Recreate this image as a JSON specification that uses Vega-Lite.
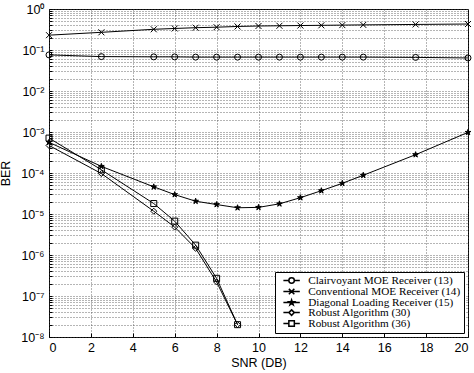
{
  "$schema": "https://vega.github.io/schema/vega-lite/v6.json",
  "width": 419,
  "height": 328,
  "autosize": {"type": "none"},
  "padding": {"left": 49, "top": 9, "right": 6, "bottom": 36},
  "background": "white",
  "config": {
    "view": {"stroke": "black", "strokeWidth": 1},
    "legend": {"rowPadding": -2, "gridAlign": "none"},
    "axis": {
      "labelFont": "Liberation Sans",
      "titleFont": "Liberation Sans",
      "labelColor": "black",
      "titleColor": "black",
      "titleFontWeight": "normal",
      "domain": false,
      "tickColor": "black",
      "grid": true,
      "gridColor": "#444",
      "gridDash": [1, 2],
      "gridWidth": 0.8
    }
  },
  "data": {
    "values": [
      {"series": "Clairvoyant MOE Receiver (13)", "snr": 0, "ber": 0.076},
      {"series": "Clairvoyant MOE Receiver (13)", "snr": 2.5, "ber": 0.069},
      {"series": "Clairvoyant MOE Receiver (13)", "snr": 5, "ber": 0.068},
      {"series": "Clairvoyant MOE Receiver (13)", "snr": 6, "ber": 0.068},
      {"series": "Clairvoyant MOE Receiver (13)", "snr": 7, "ber": 0.067},
      {"series": "Clairvoyant MOE Receiver (13)", "snr": 8, "ber": 0.067},
      {"series": "Clairvoyant MOE Receiver (13)", "snr": 9, "ber": 0.067},
      {"series": "Clairvoyant MOE Receiver (13)", "snr": 10, "ber": 0.067},
      {"series": "Clairvoyant MOE Receiver (13)", "snr": 11, "ber": 0.067},
      {"series": "Clairvoyant MOE Receiver (13)", "snr": 12, "ber": 0.067},
      {"series": "Clairvoyant MOE Receiver (13)", "snr": 13, "ber": 0.067},
      {"series": "Clairvoyant MOE Receiver (13)", "snr": 14, "ber": 0.067},
      {"series": "Clairvoyant MOE Receiver (13)", "snr": 15, "ber": 0.067},
      {"series": "Clairvoyant MOE Receiver (13)", "snr": 17.5, "ber": 0.066},
      {"series": "Clairvoyant MOE Receiver (13)", "snr": 20, "ber": 0.064},
      {"series": "Conventional MOE Receiver (14)", "snr": 0, "ber": 0.23},
      {"series": "Conventional MOE Receiver (14)", "snr": 2.5, "ber": 0.27},
      {"series": "Conventional MOE Receiver (14)", "snr": 5, "ber": 0.32},
      {"series": "Conventional MOE Receiver (14)", "snr": 6, "ber": 0.335},
      {"series": "Conventional MOE Receiver (14)", "snr": 7, "ber": 0.35},
      {"series": "Conventional MOE Receiver (14)", "snr": 8, "ber": 0.36},
      {"series": "Conventional MOE Receiver (14)", "snr": 9, "ber": 0.375},
      {"series": "Conventional MOE Receiver (14)", "snr": 10, "ber": 0.385},
      {"series": "Conventional MOE Receiver (14)", "snr": 11, "ber": 0.39},
      {"series": "Conventional MOE Receiver (14)", "snr": 12, "ber": 0.395},
      {"series": "Conventional MOE Receiver (14)", "snr": 13, "ber": 0.40},
      {"series": "Conventional MOE Receiver (14)", "snr": 14, "ber": 0.405},
      {"series": "Conventional MOE Receiver (14)", "snr": 15, "ber": 0.41},
      {"series": "Conventional MOE Receiver (14)", "snr": 17.5, "ber": 0.42},
      {"series": "Conventional MOE Receiver (14)", "snr": 20, "ber": 0.43},
      {"series": "Diagonal Loading Receiver (15)", "snr": 0, "ber": 0.00056},
      {"series": "Diagonal Loading Receiver (15)", "snr": 2.5, "ber": 0.000145},
      {"series": "Diagonal Loading Receiver (15)", "snr": 5, "ber": 0.000046},
      {"series": "Diagonal Loading Receiver (15)", "snr": 6, "ber": 0.0000297},
      {"series": "Diagonal Loading Receiver (15)", "snr": 7, "ber": 0.0000205},
      {"series": "Diagonal Loading Receiver (15)", "snr": 8, "ber": 0.000017},
      {"series": "Diagonal Loading Receiver (15)", "snr": 9, "ber": 0.0000142},
      {"series": "Diagonal Loading Receiver (15)", "snr": 10, "ber": 0.0000145},
      {"series": "Diagonal Loading Receiver (15)", "snr": 11, "ber": 0.0000177},
      {"series": "Diagonal Loading Receiver (15)", "snr": 12, "ber": 0.000025},
      {"series": "Diagonal Loading Receiver (15)", "snr": 13, "ber": 0.000037},
      {"series": "Diagonal Loading Receiver (15)", "snr": 14, "ber": 0.000056},
      {"series": "Diagonal Loading Receiver (15)", "snr": 15, "ber": 0.000088},
      {"series": "Diagonal Loading Receiver (15)", "snr": 17.5, "ber": 0.00028},
      {"series": "Diagonal Loading Receiver (15)", "snr": 20, "ber": 0.00098},
      {"series": "Robust Algorithm (30)", "snr": 0, "ber": 0.00047},
      {"series": "Robust Algorithm (30)", "snr": 2.5, "ber": 0.000097},
      {"series": "Robust Algorithm (30)", "snr": 5, "ber": 0.0000117},
      {"series": "Robust Algorithm (30)", "snr": 6, "ber": 0.0000048},
      {"series": "Robust Algorithm (30)", "snr": 7, "ber": 0.00000145},
      {"series": "Robust Algorithm (30)", "snr": 8, "ber": 0.00000022},
      {"series": "Robust Algorithm (30)", "snr": 9, "ber": 0.00000002},
      {"series": "Robust Algorithm (36)", "snr": 0, "ber": 0.00071},
      {"series": "Robust Algorithm (36)", "snr": 2.5, "ber": 0.00012},
      {"series": "Robust Algorithm (36)", "snr": 5, "ber": 0.000018},
      {"series": "Robust Algorithm (36)", "snr": 6, "ber": 0.0000067},
      {"series": "Robust Algorithm (36)", "snr": 7, "ber": 0.00000174},
      {"series": "Robust Algorithm (36)", "snr": 8, "ber": 0.00000027},
      {"series": "Robust Algorithm (36)", "snr": 9, "ber": 0.00000002}
    ]
  },
  "encoding": {
    "x": {
      "field": "snr",
      "type": "quantitative",
      "scale": {"domain": [0, 20], "nice": false, "zero": false},
      "axis": {
        "title": "SNR (DB)",
        "values": [0, 2, 4, 6, 8, 10, 12, 14, 16, 18, 20],
        "labelFontSize": 12.5,
        "titleFontSize": 12.5,
        "labelPadding": 8,
        "titlePadding": 3,
        "tickSize": -4
      }
    },
    "y": {
      "field": "ber",
      "type": "quantitative",
      "scale": {"type": "log", "domain": [1e-8, 1], "nice": false},
      "axis": {
        "title": "BER",
        "titleFontSize": 12.5,
        "labelFontSize": 12.5,
        "labelPadding": 8,
        "labelOverlap": false,
        "titleX": -40,
        "titleY": 164,
        "titleAlign": "center",
        "titleBaseline": "alphabetic",
        "tickSize": -3,
        "values": [1e-8, 2e-8, 3e-8, 4e-8, 5e-8, 6e-8, 7e-8, 8e-8, 9e-8,
                   1e-7, 2e-7, 3e-7, 4e-7, 5e-7, 6e-7, 7e-7, 8e-7, 9e-7,
                   1e-6, 2e-6, 3e-6, 4e-6, 5e-6, 6e-6, 7e-6, 8e-6, 9e-6,
                   1e-5, 2e-5, 3e-5, 4e-5, 5e-5, 6e-5, 7e-5, 8e-5, 9e-5,
                   1e-4, 2e-4, 3e-4, 4e-4, 5e-4, 6e-4, 7e-4, 8e-4, 9e-4,
                   1e-3, 2e-3, 3e-3, 4e-3, 5e-3, 6e-3, 7e-3, 8e-3, 9e-3,
                   1e-2, 2e-2, 3e-2, 4e-2, 5e-2, 6e-2, 7e-2, 8e-2, 9e-2,
                   1e-1, 2e-1, 3e-1, 4e-1, 5e-1, 6e-1, 7e-1, 8e-1, 9e-1, 1],
        "labelExpr": "datum.value == 1 ? '10⁰' : datum.value == 1e-1 ? '10⁻¹' : datum.value == 1e-2 ? '10⁻²' : datum.value == 1e-3 ? '10⁻³' : datum.value == 1e-4 ? '10⁻⁴' : datum.value == 1e-5 ? '10⁻⁵' : datum.value == 1e-6 ? '10⁻⁶' : datum.value == 1e-7 ? '10⁻⁷' : datum.value == 1e-8 ? '10⁻⁸' : ''"
      }
    }
  },
  "layer": [
    {
      "mark": {"type": "line", "color": "black", "strokeWidth": 1},
      "encoding": {"detail": {"field": "series", "type": "nominal"}}
    },
    {
      "mark": {"type": "point", "stroke": "black", "strokeWidth": 1, "size": 36, "opacity": 1},
      "encoding": {
        "shape": {
          "field": "series",
          "type": "nominal",
          "scale": {
            "domain": ["Clairvoyant MOE Receiver (13)", "Conventional MOE Receiver (14)", "Diagonal Loading Receiver (15)", "Robust Algorithm (30)", "Robust Algorithm (36)"],
            "range": ["circle", "M-1,-1L1,1M-1,1L1,-1", "M0,-1L0.225,-0.309L0.951,-0.309L0.363,0.118L0.588,0.809L0,0.382L-0.588,0.809L-0.363,0.118L-0.951,-0.309L-0.225,-0.309Z", "diamond", "square"]
          },
          "legend": null
        },
        "fill": {
          "condition": {"test": "datum.series === 'Diagonal Loading Receiver (15)'", "value": "black"},
          "value": "transparent"
        }
      }
    },
    {
      "transform": [{"filter": "datum.snr < 0"}],
      "mark": {"type": "point", "stroke": "black", "strokeWidth": 1, "size": 30, "opacity": 1, "filled": true},
      "encoding": {
        "shape": {
          "field": "series",
          "type": "nominal",
          "scale": {
            "domain": ["Clairvoyant MOE Receiver (13)", "Conventional MOE Receiver (14)", "Diagonal Loading Receiver (15)", "Robust Algorithm (30)", "Robust Algorithm (36)"],
            "range": [
              "M-3,0L-1,0M1,0L3,0M1,0A1,1,0,1,1,-1,0A1,1,0,1,1,1,0",
              "M-3,0L3,0M-1,-1L1,1M-1,1L1,-1",
              "M-3,0L3,0M0,-1L0.225,-0.309L0.951,-0.309L0.363,0.118L0.588,0.809L0,0.382L-0.588,0.809L-0.363,0.118L-0.951,-0.309L-0.225,-0.309Z",
              "M-3,0L-1,0M1,0L3,0M0,-1L1,0L0,1L-1,0Z",
              "M-3,0L-1,0M1,0L3,0M-1,-1L1,-1L1,1L-1,1Z"
            ]
          },
          "legend": {
            "title": null,
            "orient": "bottom-right",
            "offset": 4,
            "labelFont": "Liberation Serif",
            "labelFontSize": 11.2,
            "labelColor": "black",
            "labelLimit": 300,
            "fillColor": "white",
            "strokeColor": "black",
            "padding": 3,
            "symbolSize": 30,
            "symbolOffset": 8,
            "labelOffset": 11,
            "cornerRadius": 0,
            "encode": {
              "symbols": {
                "update": {
                  "stroke": {"value": "black"},
                  "strokeWidth": {"value": 1},
                  "opacity": {"value": 1}
                }
              }
            }
          }
        },
        "fill": {
          "field": "series",
          "type": "nominal",
          "scale": {
            "domain": ["Clairvoyant MOE Receiver (13)", "Conventional MOE Receiver (14)", "Diagonal Loading Receiver (15)", "Robust Algorithm (30)", "Robust Algorithm (36)"],
            "range": ["transparent", "transparent", "black", "transparent", "transparent"]
          },
          "legend": {
            "title": null,
            "orient": "bottom-right",
            "offset": 4,
            "labelFont": "Liberation Serif",
            "labelFontSize": 11.2,
            "labelColor": "black",
            "labelLimit": 300,
            "fillColor": "white",
            "strokeColor": "black",
            "padding": 3,
            "symbolSize": 30,
            "symbolOffset": 8,
            "labelOffset": 11,
            "cornerRadius": 0,
            "encode": {
              "symbols": {
                "update": {
                  "stroke": {"value": "black"},
                  "strokeWidth": {"value": 1},
                  "opacity": {"value": 1}
                }
              }
            }
          }
        }
      }
    }
  ],
  "resolve": {"scale": {"shape": "independent", "fill": "independent"}}
}
